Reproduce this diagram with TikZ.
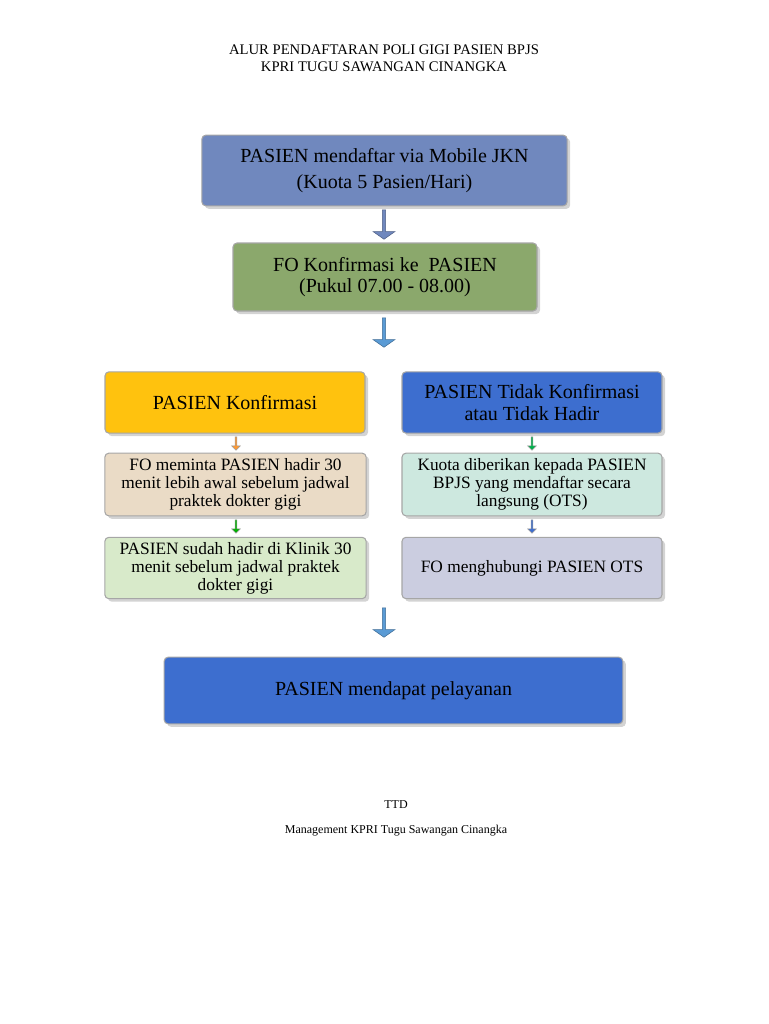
\documentclass[tikz,border=0pt]{standalone}
\usepackage{fontspec}
\setmainfont{Liberation Serif}
\usetikzlibrary{shapes.arrows, shadows}
\definecolor{boxblue}{HTML}{7088BE}
\definecolor{boxgreen}{HTML}{8BA86C}
\definecolor{boxgold}{HTML}{FFC20E}
\definecolor{boxroyal}{HTML}{3D6ECF}
\definecolor{boxbeige}{HTML}{EADBC6}
\definecolor{boxteal}{HTML}{CDE8DF}
\definecolor{boxlime}{HTML}{D8EACA}
\definecolor{boxlav}{HTML}{CBCDE0}
\definecolor{arrowblue}{HTML}{5A9BD5}
\tikzstyle{flowbox} = [rectangle, rounded corners=3pt, draw=gray!70, line width=0.8pt, align=center, drop shadow={opacity=0.35}, inner sep=2pt]
\tikzstyle{bigarrow} = [single arrow, draw=arrowblue!70!black, fill=arrowblue, shape border rotate=270, minimum width=13pt, single arrow head extend=7pt, single arrow tip angle=110, minimum height=22pt, inner sep=1pt]
\tikzstyle{smallarrow} = [single arrow, shape border rotate=270, minimum width=4pt, single arrow head extend=2.5pt, minimum height=10pt, inner sep=0.5pt, draw=black!40]
\begin{document}
\begin{tikzpicture}[x=0.75pt, y=-0.75pt]
\useasboundingbox (0,0) rectangle (768,1024);

% Title
\node (title1) at (384,50) {\fontsize{11}{13}\selectfont ALUR PENDAFTARAN POLI GIGI PASIEN BPJS};
\node (title2) at (384,67) {\fontsize{11}{13}\selectfont KPRI TUGU SAWANGAN CINANGKA};

% Boxes
\node (daftar) [flowbox, fill=boxblue, minimum width=274pt, minimum height=53pt, font=\fontsize{15}{19}\selectfont] at (384.5,170.5) {PASIEN mendaftar via Mobile JKN\\(Kuota 5 Pasien/Hari)};
\node (konf) [flowbox, fill=boxgreen, minimum width=228pt, minimum height=51pt, font=\fontsize{15}{16}\selectfont] at (385,277) {FO Konfirmasi ke\ \ PASIEN\\(Pukul 07.00 - 08.00)};
\node (ya) [flowbox, fill=boxgold, minimum width=195pt, minimum height=46pt, font=\fontsize{15}{17}\selectfont] at (235,402.5) {PASIEN Konfirmasi};
\node (tidak) [flowbox, fill=boxroyal, minimum width=195pt, minimum height=46pt, font=\fontsize{15}{17}\selectfont] at (532,402.5) {PASIEN Tidak Konfirmasi\\atau Tidak Hadir};
\node (minta) [flowbox, fill=boxbeige, minimum width=196pt, minimum height=47pt, font=\fontsize{13}{13.5}\selectfont] at (235.5,484.5) {FO meminta PASIEN hadir 30\\menit lebih awal sebelum jadwal\\praktek dokter gigi};
\node (kuota) [flowbox, fill=boxteal, minimum width=195pt, minimum height=47pt, font=\fontsize{13}{13.5}\selectfont] at (532,484.5) {Kuota diberikan kepada PASIEN\\BPJS yang mendaftar secara\\langsung (OTS)};
\node (hadir) [flowbox, fill=boxlime, minimum width=196pt, minimum height=46pt, font=\fontsize{13}{13.5}\selectfont] at (235.5,568) {PASIEN sudah hadir di Klinik 30\\menit sebelum jadwal praktek\\dokter gigi};
\node (hubungi) [flowbox, fill=boxlav, minimum width=195pt, minimum height=46pt, font=\fontsize{13}{13.5}\selectfont] at (532,568) {FO menghubungi PASIEN OTS};
\node (layan) [flowbox, fill=boxroyal, minimum width=344pt, minimum height=50pt, font=\fontsize{15}{17}\selectfont] at (393.5,690.5) {PASIEN mendapat pelayanan};

% Arrows
\node (arr1) [bigarrow, fill=boxblue, draw=boxblue!70!black] at (384,224) {};
\node (arr2) [bigarrow] at (384,332) {};
\node (arr3) [bigarrow] at (384,622) {};
\node (sa1) [smallarrow, fill=orange!80] at (236,443) {};
\node (sa2) [smallarrow, fill=teal!60!green] at (532,443) {};
\node (sa3) [smallarrow, fill=green!70!black] at (236,526) {};
\node (sa4) [smallarrow, fill=boxroyal] at (532,526) {};

% Footer
\node (ttd) at (396,805) {\fontsize{9}{11}\selectfont TTD};
\node (mgmt) at (396,831) {\fontsize{9}{11}\selectfont Management KPRI Tugu Sawangan Cinangka};
\end{tikzpicture}
\end{document}
